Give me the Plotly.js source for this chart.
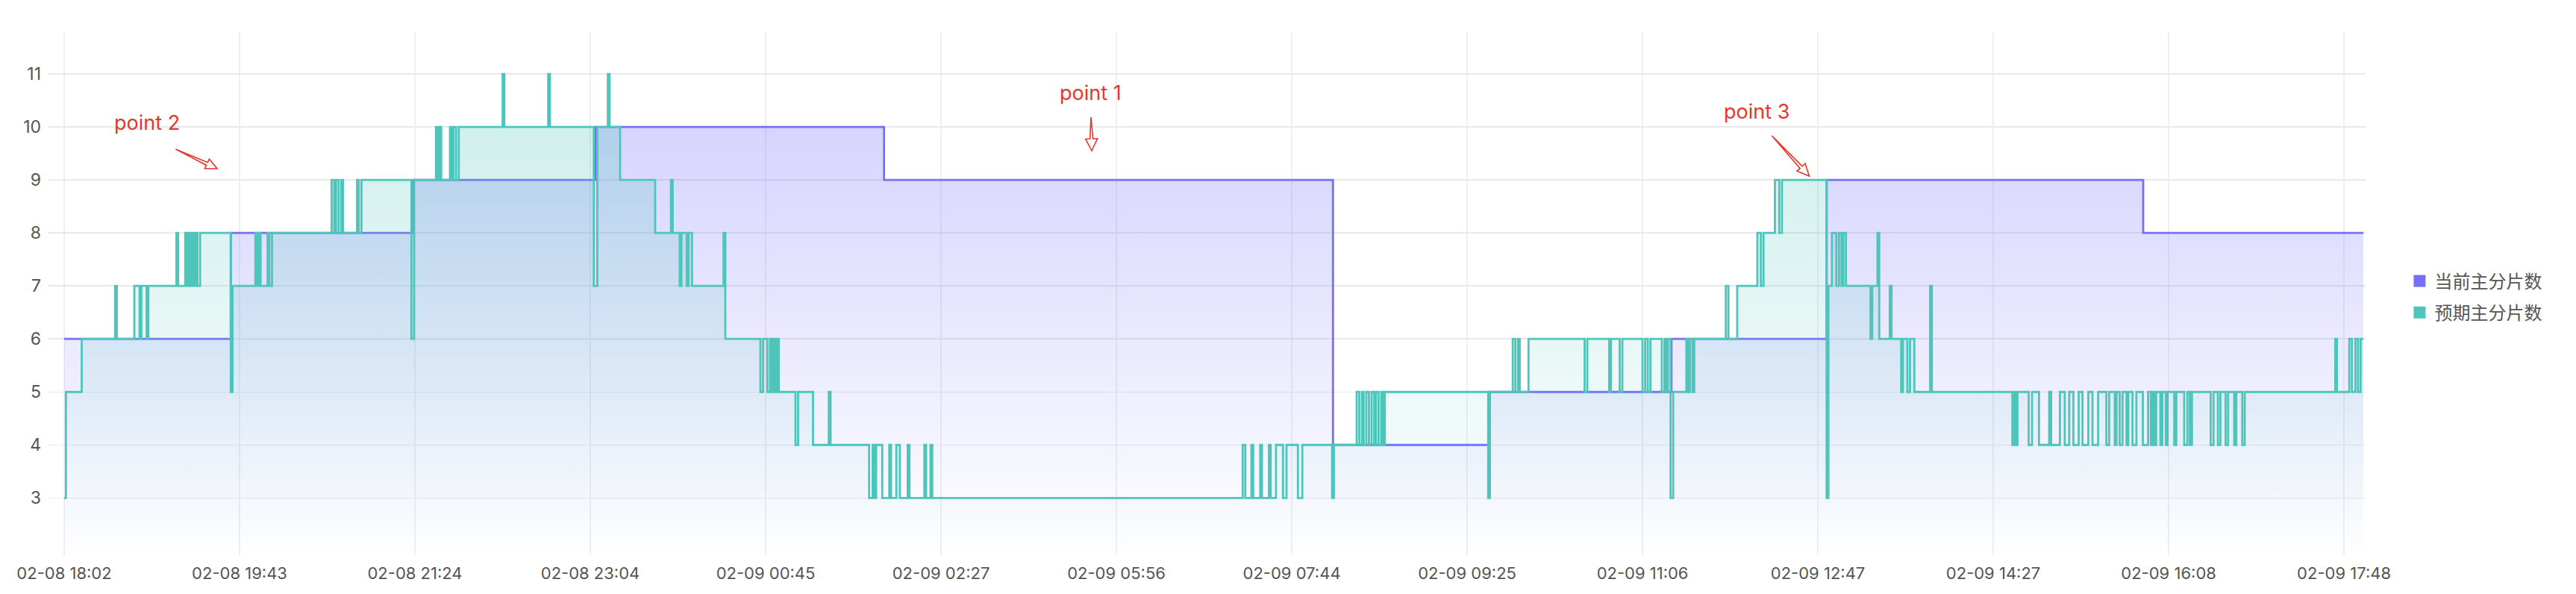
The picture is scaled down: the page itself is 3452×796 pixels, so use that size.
<!DOCTYPE html>
<html>
<head>
<meta charset="utf-8">
<script src="https://cdn.plot.ly/plotly-3.0.1.min.js"></script>
<style>
html, body { margin: 0; padding: 0; background: #ffffff; }
#chart { width: 3452px; height: 796px; }
</style>
</head>
<body>
<div id="chart"></div>
<script>
// ---- data (x = sample index along the category axis) ----
const tickLabels = ['02-08 18:02', '02-08 19:43', '02-08 21:24', '02-08 23:04', '02-09 00:45', '02-09 02:27',
  '02-09 05:56', '02-09 07:44', '02-09 09:25', '02-09 11:06', '02-09 12:47', '02-09 14:27', '02-09 16:08', '02-09 17:48'];
const tickIndex = [0, 100, 200, 300, 400, 500, 600, 700, 800, 900, 1000, 1100, 1200, 1300];

const seriesNames = ['当前主分片数', '预期主分片数'];

// 当前主分片数 (step change points)
const currentX = [0, 95, 199, 303, 467.5, 723.5, 812.5, 916.5, 1005, 1185.5, 1311];
const currentY = [6, 8, 9, 10, 9, 4, 5, 6, 9, 8, 8];

// 预期主分片数 (step change points)
const expectedX = [
  0, 1, 10, 29, 30, 40, 43, 44, 47, 48, 64, 65, 69, 70, 71, 72, 73, 74, 75, 76, 77.5,
  95, 96, 109, 110, 111, 112, 116, 117, 118.5,
  152.5, 154, 155, 156.5, 158, 159, 167, 168, 169.5, 198, 199.5,
  212, 213, 214, 215, 220, 221, 222, 223.5, 225,
  250, 251, 276, 277, 302, 304, 310, 311, 317, 337, 346, 347, 351, 352, 355, 356, 358,
  376, 377, 397, 398.5, 401, 402.5, 403.5, 404.5, 405.5, 406.5, 407.5,
  417, 418.5, 427, 436, 437,
  459, 461, 462, 463, 466.5, 470.5, 471.5, 474.5, 476.5, 481, 482, 490.5, 491.5, 494, 495,
  672, 673.5, 677, 678, 682, 683, 687, 688, 691, 695, 697, 703.5, 706, 723, 724,
  737, 738.5, 740, 741, 742.5, 744, 745.5, 747, 748, 749.5, 751, 752, 753,
  812, 813, 826, 827.5, 829, 830, 835, 867, 868.5, 881, 882, 887, 888.5,
  900, 901.5, 903, 904.5, 911, 912.5, 913.5, 914.5, 916, 917.5,
  925, 926, 927, 928.5, 929.5, 947.5, 949, 954, 965.5, 967.5, 969, 975.5, 978, 979.5,
  1005, 1006, 1008, 1010.5, 1012, 1013.5, 1014.5, 1016, 1030, 1031, 1034, 1035, 1041, 1042,
  1047.5, 1048.5, 1051, 1052.5, 1055, 1064, 1065,
  1110.9, 1111.8, 1112.6, 1113.8, 1120.2, 1122.1, 1126.1, 1131.9, 1133, 1138, 1140.8, 1143.3,
  1145.7, 1148.7, 1150.9, 1154.2, 1156.6, 1159.8, 1164.5, 1166.1, 1169.3, 1170.3, 1172.1, 1173.7,
  1176, 1177, 1179.4, 1181.6, 1185.3, 1188.3, 1189.9, 1190.9, 1191.9, 1192.9, 1195.3, 1196.4,
  1198.4, 1199.4, 1203.2, 1204.4, 1208.9, 1210.7, 1212.1, 1213.3, 1224, 1225.6, 1228.1, 1229.5,
  1232.5, 1233.9, 1237.4, 1238.6, 1242, 1243.4,
  1295, 1296, 1303, 1304.5, 1306.5, 1308, 1309.5, 1311
];
const expectedY = [
  3, 5, 6, 7, 6, 7, 6, 7, 6, 7, 8, 7, 8, 7, 8, 7, 8, 7, 8, 7, 8,
  5, 7, 8, 7, 8, 7, 8, 7, 8,
  9, 8, 9, 8, 9, 8, 9, 8, 9, 6, 9,
  10, 9, 10, 9, 10, 9, 10, 9, 10,
  11, 10, 11, 10, 7, 10, 11, 10, 9, 8, 9, 8, 7, 8, 7, 8, 7,
  8, 6, 5, 6, 5, 6, 5, 6, 5, 6, 5,
  4, 5, 4, 5, 4,
  3, 4, 3, 4, 3, 4, 3, 4, 3, 4, 3, 4, 3, 4, 3,
  4, 3, 4, 3, 4, 3, 4, 3, 4, 3, 4, 3, 4, 3, 4,
  5, 4, 5, 4, 5, 4, 5, 4, 5, 4, 5, 4, 5,
  3, 5, 6, 5, 6, 5, 6, 5, 6, 5, 6, 5, 6,
  5, 6, 5, 6, 5, 6, 5, 6, 3, 5,
  6, 5, 6, 5, 6, 7, 6, 7, 8, 7, 8, 9, 8, 9,
  3, 7, 8, 7, 8, 7, 8, 7, 6, 7, 8, 6, 7, 6,
  5, 6, 5, 6, 5, 7, 5,
  4, 5, 4, 5, 4, 5, 4, 5, 4, 5, 4, 5,
  4, 5, 4, 5, 4, 5, 4, 5, 4, 5, 4, 5,
  4, 5, 4, 5, 4, 5, 4, 5, 4, 5, 4, 5,
  4, 5, 4, 5, 4, 5, 4, 5, 4, 5, 4, 5,
  4, 5, 4, 5, 4, 5,
  6, 5, 6, 5, 6, 5, 6, 6
];

const yTicks = [3, 4, 5, 6, 7, 8, 9, 10, 11];

// ---- styling ----
const purple = '#7670f8';
const teal = '#4ec5bb';
const red = '#e8352c';
const fontFam = "Inter, 'Noto Sans CJK SC', 'Noto Sans', sans-serif";
const yMin = 1.92, yMax = 11.79;

// plot area in page pixels (used only for the hand-drawn annotation arrows)
const plotL = 65, plotR = 3170, plotT = 43, plotB = 744;
function hollowArrow(tx, ty, hx, hy, headLen, headW, shaftW) {
  const L = Math.hypot(hx - tx, hy - ty);
  const dx = (hx - tx) / L, dy = (hy - ty) / L;
  const nx = -dy, ny = dx;
  const bx = hx - dx * headLen, by = hy - dy * headLen;
  const pts = [
    [tx, ty],
    [bx + nx * shaftW / 2, by + ny * shaftW / 2],
    [bx + nx * headW / 2, by + ny * headW / 2],
    [hx, hy],
    [bx - nx * headW / 2, by - ny * headW / 2],
    [bx - nx * shaftW / 2, by - ny * shaftW / 2]
  ];
  const toPaper = p => [((p[0] - plotL) / (plotR - plotL)).toFixed(5), ((plotB - p[1]) / (plotB - plotT)).toFixed(5)];
  const path = pts.map((p, i) => (i ? 'L' : 'M') + toPaper(p).join(',')).join(' ') + ' Z';
  return { type: 'path', xref: 'paper', yref: 'paper', path: path,
    line: { color: red, width: 1.6 }, fillcolor: 'rgba(255,255,255,0)', layer: 'above' };
}

const traces = [
  {
    x: currentX, y: currentY, type: 'scatter', mode: 'lines', name: seriesNames[0],
    line: { color: purple, width: 2.8, shape: 'hv' },
    fill: 'tozeroy',
    fillgradient: { type: 'vertical', start: yMin, stop: Math.max(...currentY),
      colorscale: [[0, 'rgba(118,112,248,0.0)'], [1, 'rgba(118,112,248,0.30)']] },
    showlegend: false, hoverinfo: 'skip'
  },
  {
    x: expectedX, y: expectedY, type: 'scatter', mode: 'lines', name: seriesNames[1],
    line: { color: teal, width: 2.8, shape: 'hv' },
    fill: 'tozeroy',
    fillgradient: { type: 'vertical', start: yMin, stop: Math.max(...expectedY),
      colorscale: [[0, 'rgba(78,197,187,0.0)'], [1, 'rgba(78,197,187,0.30)']] },
    showlegend: false, hoverinfo: 'skip'
  },
  // legend swatches
  { x: [null], y: [null], type: 'scatter', mode: 'markers', name: seriesNames[0], legendgroup: 'a',
    marker: { symbol: 'square', size: 16, color: purple }, showlegend: true },
  { x: [null], y: [null], type: 'scatter', mode: 'markers', name: seriesNames[1], legendgroup: 'b',
    marker: { symbol: 'square', size: 16, color: teal }, showlegend: true }
];

const annFont = { family: fontFam, size: 27, color: red };
const layout = {
  width: 3452, height: 796,
  paper_bgcolor: '#ffffff', plot_bgcolor: '#ffffff',
  margin: { l: plotL, r: 3452 - plotR, t: plotT, b: 796 - plotB, pad: 0 },
  font: { family: fontFam, size: 22, color: '#555555' },
  xaxis: {
    range: [-8.94, 1312.3], tickmode: 'array', tickvals: tickIndex, ticktext: tickLabels,
    showgrid: true, gridcolor: '#efeff2', gridwidth: 1.5, zeroline: false, showline: false,
    ticks: '', ticklabelstandoff: 9, tickfont: { size: 22, color: '#555555' }
  },
  yaxis: {
    range: [yMin, yMax], tickmode: 'array', tickvals: yTicks,
    showgrid: true, gridcolor: '#e9e9ec', gridwidth: 1.5, zeroline: false, showline: false,
    ticks: '', ticklabelstandoff: 9, tickfont: { size: 23, color: '#555555' }
  },
  showlegend: true,
  legend: {
    xref: 'container', yref: 'container', x: 0.9335, y: 0.5, xanchor: 'left', yanchor: 'middle',
    orientation: 'v', tracegroupgap: 8, bgcolor: 'rgba(0,0,0,0)',
    font: { family: fontFam, size: 24, color: '#555555' }
  },
  annotations: [
    { x: 47.2, y: 10.08, text: 'point 2', showarrow: false, font: annFont },
    { x: 585.1, y: 10.64, text: 'point 1', showarrow: false, font: annFont },
    { x: 965.1, y: 10.29, text: 'point 3', showarrow: false, font: annFont }
  ],
  shapes: [
    hollowArrow(235.5, 200, 291, 226, 15, 14, 4),
    hollowArrow(1462, 157, 1463, 202, 16, 16, 4),
    hollowArrow(2374.5, 182, 2424.5, 236, 16, 15, 4)
  ]
};

Plotly.newPlot('chart', traces, layout, { displayModeBar: false, staticPlot: true });
</script>
</body>
</html>
